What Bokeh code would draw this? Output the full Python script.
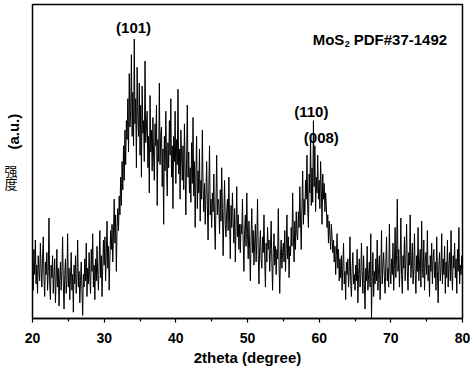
import numpy as np
from bokeh.plotting import figure
from bokeh.layouts import row
from bokeh.models import Label, Range1d, FixedTicker
from bokeh.core.properties import value
from bokeh.embed import file_html
from bokeh.resources import INLINE

# 2theta from 20 to 80 deg, step 0.1
two_theta_start = 20.0
two_theta_step = 0.1
intensity = [
    18, 9, 22, 14, 25, 11, 17, 8, 20, 15,
    12, 24, 16, 10, 19, 26, 13, 7, 18, 14,
    21, 9, 15, 32, 11, 6, 17, 13, 20, 8,
    14, 19, 5, 12, 22, 10, 16, 4, 13, 18,
    9, 15, 26, 11, 3, 14, 19, 8, 12, 27,
    10, 16, 6, 13, 21, 9, 14, 2, 17, 11,
    20, 8, 13, 25, 10, 15, 5, 12, 18, 9,
    1, 14, 10, 19, 12, 24, 7, 16, 11, 21,
    13, 8, 22, 15, 27, 10, 17, 6, 19, 12,
    23, 14, 9, 18, 28, 13, 20, 7, 16, 25,
    17, 26, 12, 21, 31, 16, 23, 9, 19, 28,
    22, 30, 18, 27, 38, 24, 33, 15, 29, 35,
    28, 39, 33, 45, 36, 50, 41, 55, 44, 60,
    49, 63, 57, 70, 53, 78, 61, 66, 84, 58,
    72, 55, 89, 62, 70, 48, 80, 64, 58, 75,
    52, 68, 45, 74, 59, 63, 50, 82, 56, 61,
    66, 48, 58, 40, 71, 53, 60, 47, 64, 51,
    44, 62, 55, 68, 36, 57, 50, 75, 49, 59,
    61, 42, 54, 30, 58, 47, 66, 51, 39, 56,
    48, 63, 52, 70, 45, 55, 35, 58, 50, 66,
    43, 57, 49, 73, 46, 54, 38, 60, 52, 44,
    55, 41, 62, 47, 33, 51, 68, 45, 53, 40,
    48, 37, 56, 43, 64, 39, 50, 29, 46, 58,
    35, 47, 40, 54, 31, 44, 38, 60, 42, 34,
    43, 30, 39, 50, 36, 25, 41, 55, 33, 38,
    29, 40, 34, 46, 31, 22, 37, 52, 33, 38,
    36, 27, 41, 31, 48, 35, 20, 33, 44, 30,
    26, 34, 38, 28, 45, 31, 19, 36, 29, 40,
    31, 24, 35, 18, 29, 42, 26, 33, 22, 30,
    21, 30, 27, 38, 24, 15, 28, 33, 23, 40,
    27, 19, 31, 22, 12, 26, 35, 21, 28, 17,
    24, 30, 18, 25, 38, 20, 11, 23, 28, 19,
    16, 26, 21, 33, 19, 10, 24, 18, 29, 22,
    25, 15, 22, 31, 18, 9, 21, 27, 17, 23,
    14, 22, 19, 35, 17, 8, 20, 25, 16, 21,
    24, 18, 28, 15, 22, 33, 19, 26, 13, 23,
    20, 29, 23, 40, 26, 18, 31, 22, 34, 27,
    25, 34, 29, 42, 31, 22, 36, 47, 30, 38,
    33, 44, 38, 52, 35, 29, 46, 40, 58, 36,
    48, 37, 63, 42, 55, 34, 45, 40, 52, 38,
    44, 35, 50, 41, 30, 46, 38, 43, 34, 40,
    36, 29, 33, 24, 31, 27, 22, 30, 26, 21,
    25, 18, 23, 14, 20, 27, 16, 22, 12, 19,
    13, 20, 9, 17, 24, 11, 15, 6, 18, 14,
    19, 10, 15, 26, 12, 7, 16, 21, 11, 14,
    9, 17, 12, 22, 5, 14, 19, 10, 13, 24,
    15, 8, 20, 11, 3, 16, 12, 23, 9, 14,
    18, 10, 27, 0, 13, 21, 7, 15, 11, 19,
    12, 25, 9, 16, 20, 6, 14, 28, 11, 17,
    21, 13, 8, 18, 26, 12, 16, 10, 30, 15,
    11, 19, 14, 24, 9, 17, 29, 13, 20, 38,
    15, 22, 10, 18, 32, 14, 8, 20, 16, 26,
    12, 19, 30, 15, 9, 21, 17, 33, 13, 18,
    24, 11, 16, 27, 14, 8, 20, 15, 29, 12,
    17, 22, 10, 31, 16, 13, 25, 9, 18, 21,
    14, 28, 12, 17, 7, 20, 15, 24, 11, 19,
    22, 13, 18, 9, 26, 15, 5, 17, 21, 12,
    16, 27, 11, 19, 14, 23, 8, 18, 13, 25,
    10, 17, 21, 12, 28, 15, 9, 20, 16, 24,
    13, 19, 8, 22, 15, 29, 11, 17, 14, 20,
    15,
]
x_ticks = [20, 30, 40, 50, 60, 70, 80]
peak_labels = ["(101)", "(110)", "(008)"]
peak_pos = [34.1, 58.9, 60.3]
x_label = "2theta (degree)"
y_label_unit = "(a.u.)"
y_label_chars = ["强", "度"]
title_text = "MoS"
title_sub = "2"
title_rest = "PDF#37-1492"

two_theta = [two_theta_start + i * two_theta_step for i in range(len(intensity))]

FONT = "Liberation Sans"
CJK = "Noto Sans CJK SC"
H = 368
SIDE_W = 23

# main plot
p = figure(width=470 - SIDE_W, height=H, output_backend="svg", toolbar_location=None,
           title=None, x_range=Range1d(20, 80), y_range=Range1d(0, 100),
           min_border_left=9, min_border_right=8, min_border_top=4, min_border_bottom=10)
p.background_fill_color = "white"
p.border_fill_color = "white"
p.outline_line_color = "black"
p.outline_line_width = 1.5
p.grid.visible = False
p.yaxis.visible = False

p.line(two_theta, intensity, line_color="black", line_width=1.0)

ax = p.xaxis[0]
ax.ticker = FixedTicker(ticks=x_ticks, minor_ticks=[25, 35, 45, 55, 65, 75])
ax.axis_line_color = "black"
ax.axis_line_width = 1.5
ax.major_tick_in = 0
ax.major_tick_out = 4
ax.minor_tick_in = 0
ax.minor_tick_out = 3
ax.major_tick_line_width = 1.2
ax.minor_tick_line_width = 1.2
ax.major_label_text_font = FONT
ax.major_label_text_font_style = "bold"
ax.major_label_text_font_size = "14px"
ax.major_label_text_color = "black"
ax.major_label_standoff = 10
ax.axis_label = x_label
ax.axis_label_text_font = FONT
ax.axis_label_text_font_style = "bold"
ax.axis_label_text_font_size = "15px"
ax.axis_label_text_color = "black"
ax.axis_label_standoff = 3

peak_y = [92.7, 65.9, 57.6]
for txt, px_, py_ in zip(peak_labels, peak_pos, peak_y):
    p.add_layout(Label(x=px_, y=py_, text=txt, text_font=FONT, text_font_style="bold",
                       text_font_size="15px", text_align="center", text_baseline="middle",
                       text_color="black"))

tx, ty = 59.1, 88.9
p.add_layout(Label(x=tx, y=ty, text=title_text, text_font=FONT, text_font_style="bold",
                   text_font_size="15px", text_align="left", text_baseline="middle",
                   text_color="black"))
p.add_layout(Label(x=tx, y=ty, x_offset=32, y_offset=-5, text=title_sub, text_font=FONT,
                   text_font_style="bold", text_font_size="9px", text_align="left",
                   text_baseline="middle", text_color="black"))
p.add_layout(Label(x=tx, y=ty, x_offset=41, text=title_rest, text_font=FONT,
                   text_font_style="bold", text_font_size="15px", text_align="left",
                   text_baseline="middle", text_color="black"))

# narrow strip on the left carrying the y-axis title (its frame aligns with p's frame)
side = figure(width=SIDE_W, height=H, output_backend="svg", toolbar_location=None, title=None,
              x_range=Range1d(0, SIDE_W), y_range=Range1d(0, 100),
              x_axis_type=None, y_axis_type=None,
              min_border=0, min_border_left=0, min_border_right=0,
              min_border_top=0, min_border_bottom=0)
side.outline_line_color = None
side.grid.visible = False
side.background_fill_color = "white"
side.border_fill_color = "white"
# upright Chinese characters (drawn as glyphs, before the rotated annotation)
side.text(x=[10.5, 10.5], y=[47.1, 43.0], text=y_label_chars, text_font=value(CJK),
          text_font_size="13px", text_align="center", text_baseline="middle",
          text_color="black", angle=0)
side.add_layout(Label(x=12.5, y=59.5, text=y_label_unit, angle=np.pi / 2, text_font=FONT,
                      text_font_style="bold", text_font_size="15px", text_align="center",
                      text_baseline="middle", text_color="black"))

layout = row(side, p, spacing=0)
open("out.html", "w").write(file_html(layout, INLINE))
